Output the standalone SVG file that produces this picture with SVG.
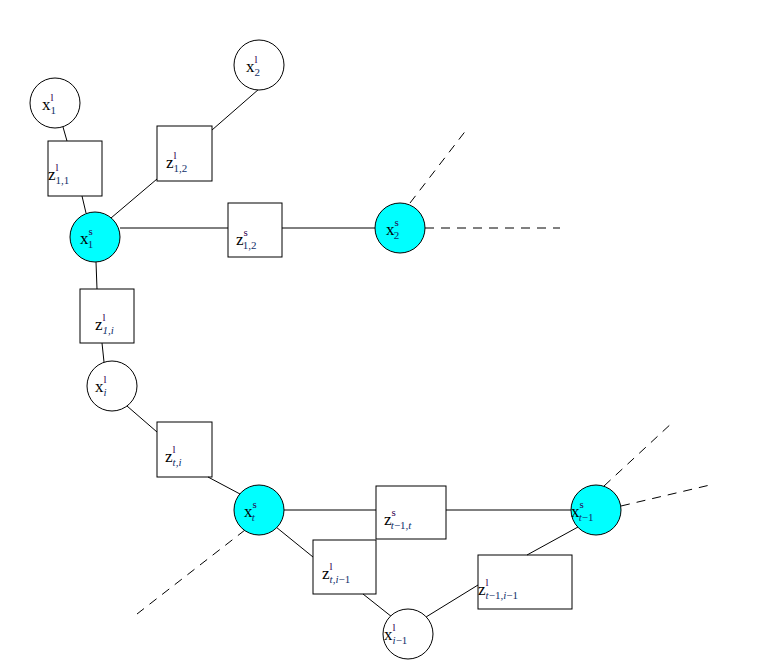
<svg xmlns="http://www.w3.org/2000/svg" width="757" height="670" viewBox="0 0 757 670">
<style>
.c{fill:#fff;stroke:#000;stroke-width:1}
.s{fill:#00ffff;stroke:#000;stroke-width:1}
.b{fill:none;stroke:#000;stroke-width:1}
.e{stroke:#000;stroke-width:1;fill:none}
.d{stroke:#000;stroke-width:1;fill:none;stroke-dasharray:9,7}
text{font-family:"Liberation Serif","DejaVu Serif",serif;font-size:17px;fill:#000}
.sup{font-size:11px;fill:#300050}
.sub{font-size:11px;fill:#10306a}
</style>
<rect width="757" height="670" fill="#fff"/>
<g id="edges">
<line class="e" x1="63" y1="127" x2="67" y2="141"/>
<line class="e" x1="82" y1="196" x2="86" y2="213"/>
<line class="e" x1="259" y1="89" x2="212" y2="130"/>
<line class="e" x1="157" y1="179" x2="111" y2="218"/>
<line class="e" x1="120" y1="228" x2="228" y2="228"/>
<line class="e" x1="282" y1="228" x2="375" y2="228"/>
<line class="e" x1="96" y1="262" x2="97" y2="289"/>
<line class="e" x1="102" y1="343" x2="104" y2="362"/>
<line class="e" x1="127" y1="406" x2="157" y2="432"/>
<line class="e" x1="208" y1="477" x2="240" y2="494"/>
<line class="e" x1="284" y1="510" x2="376" y2="510"/>
<line class="e" x1="446" y1="510" x2="571" y2="510"/>
<line class="e" x1="276" y1="527" x2="313" y2="557"/>
<line class="e" x1="363" y1="594" x2="392" y2="617"/>
<line class="e" x1="426" y1="617" x2="478" y2="585"/>
<line class="e" x1="527" y1="555" x2="578" y2="527"/>
<line class="d" x1="410" y1="203" x2="467" y2="129"/>
<line class="d" x1="425" y1="228" x2="560" y2="228"/>
<line class="d" x1="604" y1="486" x2="673" y2="422"/>
<line class="d" x1="621" y1="506" x2="710" y2="485"/>
<line class="d" x1="245" y1="530" x2="137" y2="614"/>
</g>
<g id="x1l"><circle class="c" cx="55" cy="103" r="25"/><text x="42" y="110">x<tspan class="sup" dy="-9">l</tspan><tspan class="sub" dx="-3" dy="13">1</tspan></text></g>
<g id="x2l"><circle class="c" cx="259" cy="65" r="25"/><text x="246" y="72">x<tspan class="sup" dy="-9">l</tspan><tspan class="sub" dx="-3" dy="13">2</tspan></text></g>
<g id="z11"><rect class="b" x="48" y="141" width="54" height="55"/><text x="48" y="180">z<tspan class="sup" dy="-9">l</tspan><tspan class="sub" dx="-3" dy="13">1,1</tspan></text></g>
<g id="z12"><rect class="b" x="157" y="126" width="55" height="55"/><text x="166" y="168">z<tspan class="sup" dy="-9">l</tspan><tspan class="sub" dx="-3" dy="13">1,2</tspan></text></g>
<g id="x1s"><circle class="s" cx="95" cy="237" r="25"/><text x="80" y="244">x<tspan class="sup" dy="-9">s</tspan><tspan class="sub" dx="-5" dy="13">1</tspan></text></g>
<g id="z12s"><rect class="b" x="228" y="203" width="54" height="54"/><text x="236" y="245">z<tspan class="sup" dy="-9">s</tspan><tspan class="sub" dx="-5" dy="13">1,2</tspan></text></g>
<g id="x2s"><circle class="s" cx="400" cy="228" r="25"/><text x="386" y="235">x<tspan class="sup" dy="-9">s</tspan><tspan class="sub" dx="-5" dy="13">2</tspan></text></g>
<g id="z1i"><rect class="b" x="80" y="289" width="54" height="54"/><text x="95" y="330">z<tspan class="sup" dy="-9">l</tspan><tspan class="sub" dx="-3" dy="13" font-style="italic">1,i</tspan></text></g>
<g id="xil"><circle class="c" cx="112" cy="386" r="25"/><text x="95" y="392">x<tspan class="sup" dy="-9">l</tspan><tspan class="sub" dx="-3" dy="13" font-style="italic">i</tspan></text></g>
<g id="zti"><rect class="b" x="157" y="422" width="55" height="55"/><text x="165" y="462">z<tspan class="sup" dy="-9">l</tspan><tspan class="sub" dx="-3" dy="13" font-style="italic">t,i</tspan></text></g>
<g id="xts"><circle class="s" cx="259" cy="510" r="25"/><text x="244" y="517">x<tspan class="sup" dy="-9">s</tspan><tspan class="sub" dx="-5" dy="13" font-style="italic">t</tspan></text></g>
<g id="zst"><rect class="b" x="376" y="486" width="70" height="53"/><text x="384" y="525">z<tspan class="sup" dy="-9">s</tspan><tspan class="sub" dx="-5" dy="13"><tspan font-style="italic">t</tspan>−1,<tspan font-style="italic">t</tspan></tspan></text></g>
<g id="xt1s"><circle class="s" cx="596" cy="510" r="25"/><text x="571" y="517">x<tspan class="sup" dy="-9">s</tspan><tspan class="sub" dx="-5" dy="13"><tspan font-style="italic">t</tspan>−1</tspan></text></g>
<g id="zti1"><rect class="b" x="313" y="540" width="63" height="54"/><text x="322" y="579">z<tspan class="sup" dy="-9">l</tspan><tspan class="sub" dx="-3" dy="13"><tspan font-style="italic">t</tspan>,<tspan font-style="italic">i</tspan>−1</tspan></text></g>
<g id="zt1i1"><rect class="b" x="478" y="555" width="94" height="54"/><text x="478" y="595">z<tspan class="sup" dy="-9">l</tspan><tspan class="sub" dx="-3" dy="13"><tspan font-style="italic">t</tspan>−1,<tspan font-style="italic">i</tspan>−1</tspan></text></g>
<g id="xi1l"><circle class="c" cx="408" cy="634" r="25"/><text x="384" y="640">x<tspan class="sup" dy="-9">l</tspan><tspan class="sub" dx="-3" dy="13"><tspan font-style="italic">i</tspan>−1</tspan></text></g>
</svg>
